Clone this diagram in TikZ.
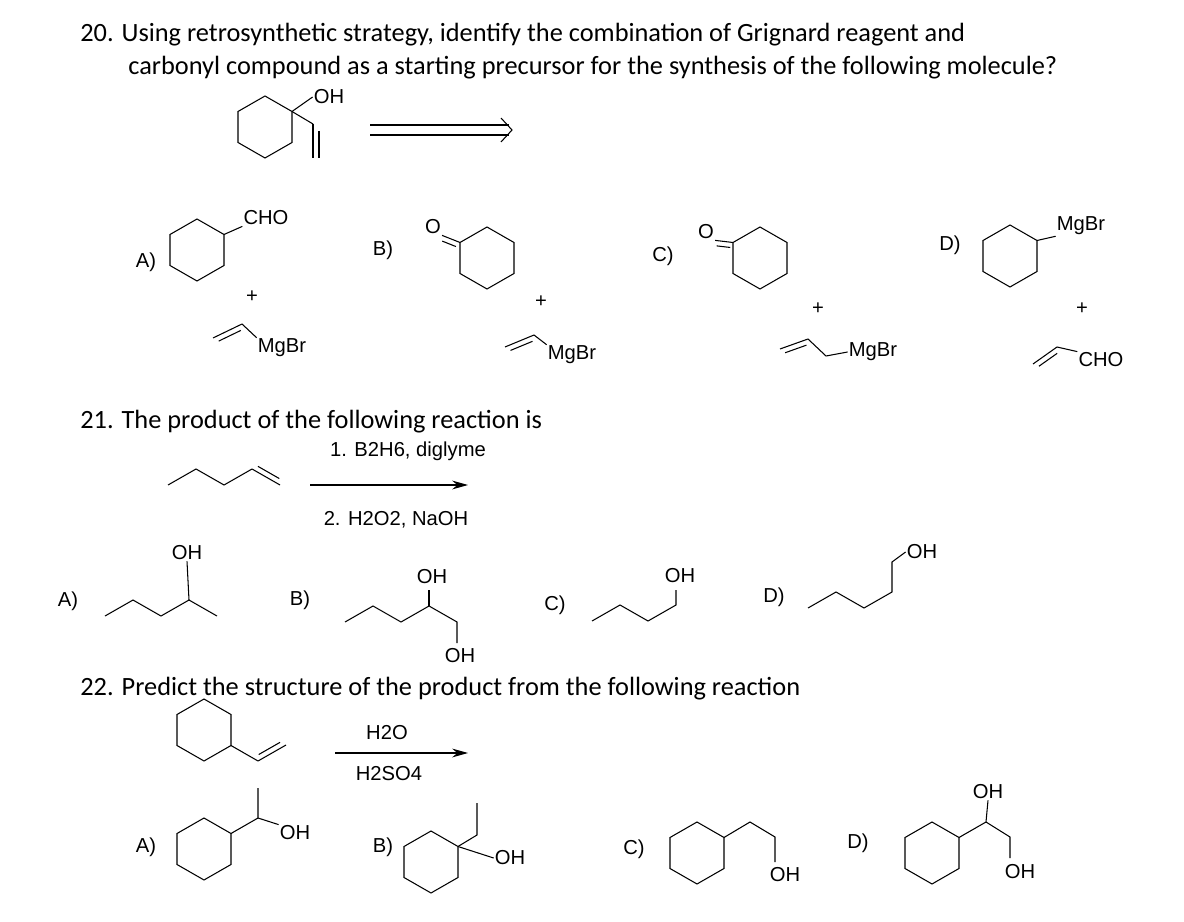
\documentclass[tikz,border=0pt]{standalone}
\usepackage{fontspec}
\setmainfont{Carlito}
\newfontfamily\labelfont{Liberation Sans}
\usetikzlibrary{calc,arrows.meta}
\tikzset{
  bond/.style={line width=0.6pt},
  qtext/.style={anchor=west, inner sep=0pt, font=\fontsize{15}{18}\selectfont},
  atom/.style={inner sep=0.5pt, font=\labelfont\fontsize{11.5}{13}\selectfont},
  optlabel/.style={inner sep=0pt, font=\labelfont\fontsize{11.5}{13}\selectfont}
}
% cyclohexane ring, vertex up, centre in px
\newcommand{\hexring}[2]{%
  \draw[bond] ({#1+27},{#2-15.5}) -- (#1,{#2-31}) -- ({#1-27},{#2-15.5}) -- ({#1-27},{#2+15.5}) -- (#1,{#2+31}) -- ({#1+27},{#2+15.5}) -- cycle;}
% double bond: main line plus inner line on side #3 (90 or -90)
\newcommand{\dbond}[3]{%
  \draw[bond] (#1) -- (#2);
  \draw[bond] ($(#1)!0.12!(#2)!3pt!#3:(#2)$) -- ($(#2)!0.12!(#1)!3pt!-#3:(#1)$);}
\begin{document}
\begin{tikzpicture}[x=0.02cm, y=-0.02cm]
\useasboundingbox[fill=white] (0,0) rectangle (1184,922);

% Question 20
\node[qtext] (q20a) at (80,35) {20. Using retrosynthetic strategy, identify the combination of Grignard reagent and};
\node[qtext] (q20b) at (128,68) {carbonyl compound as a starting precursor for the synthesis of the following molecule?};

% target molecule
\hexring{265}{127}
\node[atom] (oh0) at (329,97) {OH};
\draw[bond] (292,111.5) -- (oh0.west);
\draw[bond] (292,111.5) -- (313,124);
\draw[bond] (313,124) -- (313,158);
\draw[bond] (319,131) -- (319,158);
% retro arrow
\draw[bond] (370,125) -- (509,125);
\draw[bond] (370,135) -- (509,135);
\draw[bond] (501,118) -- (512,130) -- (501,142);

% option A
\node[optlabel] (a20) at (146,262) {A)};
\hexring{197}{250}
\node[atom] (cho1) at (266,218) {CHO};
\draw[bond] (224,234.5) -- (cho1.south west);
\node[atom] (p1) at (252,297) {+};
\coordinate (v1a) at (213,338);
\coordinate (v1b) at (242,324);
\dbond{v1a}{v1b}{-90}
\node[atom] (mg1) at (282,348) {MgBr};
\draw[bond] (v1b) -- (mg1.north west);

% option B
\node[optlabel] (b20) at (383,250) {B)};
\hexring{487}{258}
\node[atom] (o2) at (433,227) {O};
\coordinate (k2) at (460,242.5);
\dbond{k2}{o2.south east}{90}
\node[atom] (p2) at (541,302) {+};
\coordinate (v2a) at (505,347);
\coordinate (v2b) at (534,335);
\dbond{v2a}{v2b}{-90}
\node[atom] (mg2) at (572,355) {MgBr};
\draw[bond] (v2b) -- (mg2.north west);

% option C
\node[optlabel] (c20) at (663,256) {C)};
\hexring{760}{258}
\node[atom] (o3) at (706,232) {O};
\coordinate (k3) at (733,242.5);
\dbond{k3}{o3.south east}{90}
\node[atom] (p3) at (818,309) {+};
\coordinate (v3a) at (780,349);
\coordinate (v3b) at (808,339);
\coordinate (v3c) at (826,356);
\dbond{v3a}{v3b}{-90}
\node[atom] (mg3) at (873,352) {MgBr};
\draw[bond] (v3b) -- (v3c) -- (mg3.west);

% option D
\node[optlabel] (d20) at (950,245) {D)};
\hexring{1010}{256}
\node[atom] (mg4) at (1081,226) {MgBr};
\draw[bond] (1037,240.5) -- (mg4.south west);
\node[atom] (p4) at (1082,309) {+};
\coordinate (v4a) at (1033,364);
\coordinate (v4b) at (1057,347);
\dbond{v4a}{v4b}{-90}
\node[atom] (cho4) at (1101,360) {CHO};
\draw[bond] (v4b) -- (cho4.north west);

% Question 21
\node[qtext] (q21) at (80,422) {21. The product of the following reaction is};
\draw[bond] (168,485) -- (196,469) -- (224,485) -- (252,469);
\coordinate (e1) at (252,469);
\coordinate (e2) at (280,485);
\dbond{e1}{e2}{90}
\node[atom] (r21a) at (408,451) {1. B2H6, diglyme};
\node[atom] (r21b) at (396,520) {2. H2O2, NaOH};
\coordinate (ar1s) at (310,485);
\coordinate (ar1e) at (468,485);
\draw[bond, -{Stealth[length=9pt,width=5pt]}] (ar1s) -- (ar1e);

\node[optlabel] (a21) at (68,601) {A)};
\node[atom] (oh21a) at (187,553) {OH};
\draw[bond] (105,616) -- (133,600) -- (161,616) -- (189,600) -- (217,616);
\draw[bond] (189,600) -- (oh21a.south);

\node[optlabel] (b21) at (300,600) {B)};
\node[atom] (oh21b1) at (432,577) {OH};
\node[atom] (oh21b2) at (460,656) {OH};
\draw[bond] (345,622) -- (373,606) -- (401,622) -- (429,606) -- (457,622) -- (457,643);
\draw[bond] (429,606) -- (429,590);

\node[optlabel] (c21) at (555,605) {C)};
\node[atom] (oh21c) at (680,576) {OH};
\draw[bond] (592,621) -- (620,605) -- (648,621) -- (676,605) -- (676,590);

\node[optlabel] (d21) at (774,597) {D)};
\node[atom] (oh21d) at (922,552) {OH};
\draw[bond] (808,608) -- (836,592) -- (864,608) -- (892,592) -- (892,562) -- (oh21d.west);

% Question 22
\node[qtext] (q22) at (80,689) {22. Predict the structure of the product from the following reaction};
\hexring{204}{730}
\coordinate (w1) at (231,745.5);
\coordinate (w2) at (258,761);
\coordinate (w3) at (286,745);
\draw[bond] (w1) -- (w2);
\dbond{w2}{w3}{90}
\node[atom] (r22a) at (387,733) {H2O};
\node[atom] (r22b) at (389,774) {H2SO4};
\coordinate (ar2s) at (335,753);
\coordinate (ar2e) at (468,753);
\draw[bond, -{Stealth[length=9pt,width=5pt]}] (ar2s) -- (ar2e);

\node[optlabel] (a22) at (146,847) {A)};
\hexring{204}{849}
\node[atom] (oh22a) at (295,833) {OH};
\draw[bond] (231,833.5) -- (258,818) -- (258,788);
\draw[bond] (258,818) -- (oh22a.north west);

\node[optlabel] (b22) at (383,847) {B)};
\hexring{431}{862}
\node[atom] (oh22b) at (510,858) {OH};
\draw[bond] (458,846.5) -- (477,835) -- (477,803);
\draw[bond] (458,846.5) -- (oh22b.west);

\node[optlabel] (c22) at (634,849) {C)};
\hexring{697}{853}
\node[atom] (oh22c) at (785,875) {OH};
\draw[bond] (724,837.5) -- (750,822) -- (775,837) -- (775,862);

\node[optlabel] (d22) at (858,843) {D)};
\hexring{932}{853}
\node[atom] (oh22d1) at (988,792) {OH};
\node[atom] (oh22d2) at (1020,872) {OH};
\draw[bond] (959,837.5) -- (986,822) -- (oh22d1.south);
\draw[bond] (986,822) -- (1010,837) -- (1010,858);
\end{tikzpicture}
\end{document}
